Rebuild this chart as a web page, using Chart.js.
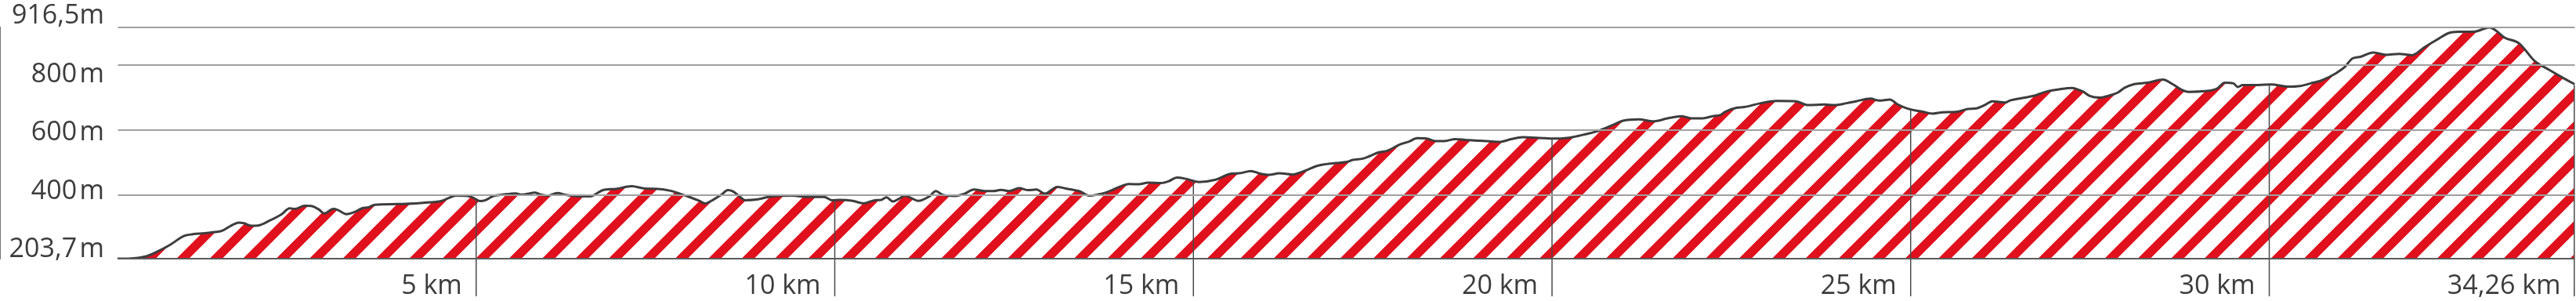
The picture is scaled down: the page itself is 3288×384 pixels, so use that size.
<!DOCTYPE html>
<html lang="de">
<head>
    <meta charset="UTF-8">
    <script src="https://cdn.jsdelivr.net/npm/chart.js"></script>
    <title>Höhenprofil</title>
    <style>
        body {
            margin: 0;
            background: #ffffff;
        }

        #wrap {
            width: 3288px;
            height: 384px;
        }
    </style>
</head>
<body>
<div id="wrap"><canvas id="profile" width="3288" height="384"></canvas></div>
<script>
    // distance along the route (km) and elevation (m)
    const distKm = [
        0, 0.15, 0.40, 0.55, 0.73, 0.93, 1.05, 1.22, 1.36, 1.45, 1.58, 1.69, 1.76, 1.87, 1.96,
        2.12, 2.29, 2.40, 2.47, 2.61, 2.70, 2.81, 2.88, 3.01, 3.07, 3.19, 3.32, 3.41, 3.50, 3.59,
        3.90, 4.26, 4.52, 4.61, 4.72, 4.88, 4.97, 5.06, 5.13, 5.24, 5.37, 5.55, 5.62, 5.68, 5.82,
        5.89, 6.00, 6.13, 6.26, 6.44, 6.60, 6.69, 6.77, 6.95, 7.17, 7.35, 7.53, 7.71, 7.84, 7.97,
        8.11, 8.19, 8.31, 8.42, 8.51, 8.58, 8.67, 8.75, 8.91, 9.13, 9.40, 9.62, 9.85, 9.96, 10.07,
        10.25, 10.40, 10.56, 10.65, 10.72, 10.81, 10.90, 10.98, 11.07, 11.16, 11.32, 11.41, 11.50, 11.68, 11.81,
        11.94, 12.10, 12.21, 12.32, 12.43, 12.57, 12.70, 12.81, 12.93, 13.10, 13.22, 13.42, 13.55, 13.66, 13.79,
        13.97, 14.10, 14.24, 14.37, 14.55, 14.66, 14.77, 14.91, 15.08, 15.31, 15.53, 15.64, 15.80, 15.93, 16.06,
        16.20, 16.38, 16.56, 16.73, 16.96, 17.14, 17.22, 17.36, 17.45, 17.58, 17.71, 17.89, 18.00, 18.12, 18.25,
        18.38, 18.52, 18.65, 18.79, 18.92, 19.10, 19.28, 19.43, 19.59, 19.90, 20.08, 20.30, 20.48, 20.65, 20.85,
        20.99, 21.21, 21.41, 21.61, 21.81, 21.95, 22.08, 22.24, 22.35, 22.41, 22.57, 22.68, 22.91, 23.13, 23.40,
        23.57, 23.80, 23.93, 24.11, 24.24, 24.44, 24.56, 24.71, 24.82, 24.96, 25.18, 25.31, 25.45, 25.63, 25.80,
        25.92, 26.03, 26.14, 26.32, 26.38, 26.61, 26.74, 26.88, 27.10, 27.25, 27.32, 27.41, 27.49, 27.63, 27.76,
        27.89, 27.98, 28.12, 28.30, 28.52, 28.65, 28.78, 28.87, 29.10, 29.27, 29.38, 29.50, 29.56, 29.63, 29.85,
        30.03, 30.25, 30.43, 30.61, 30.74, 30.92, 31.05, 31.16, 31.27, 31.45, 31.63, 31.81, 31.99, 32.16, 32.34,
        32.50, 32.65, 32.87, 32.99, 33.07, 33.16, 33.28, 33.48, 33.70, 33.90, 34.12, 34.26
    ];
    const elevM = [
        203.7, 204, 211, 225, 246, 274, 279, 282, 286, 289, 305, 315, 313, 305, 306,
        321, 341, 359, 357, 367, 366, 355, 343, 357, 354, 341, 349, 359, 362, 370,
        372, 376, 382, 390, 398, 397, 390, 381, 384, 397, 401, 405, 401, 402, 407,
        402, 398, 406, 400, 396, 396, 406, 415, 419, 427, 420, 419, 413, 404, 394,
        382, 374, 386, 401, 415, 411, 396, 384, 386, 396, 398, 394, 394, 384, 385,
        382, 374, 384, 385, 393, 380, 389, 398, 390, 382, 396, 412, 401, 397, 404,
        417, 412, 412, 416, 412, 421, 415, 417, 404, 425, 420, 411, 398, 401, 408,
        425, 434, 433, 438, 437, 443, 454, 449, 440, 447, 466, 467, 474, 466, 462,
        467, 463, 475, 490, 498, 502, 508, 512, 519, 531, 537, 557, 564, 575, 574,
        566, 567, 572, 570, 568, 566, 564, 572, 578, 575, 574, 579, 588, 598, 616,
        629, 633, 627, 636, 643, 636, 636, 643, 647, 656, 669, 671, 683, 690, 689,
        677, 679, 677, 683, 689, 697, 691, 694, 679, 666, 656, 651, 655, 656, 665,
        667, 677, 689, 685, 691, 701, 707, 718, 727, 730, 726, 718, 706, 700, 706,
        716, 730, 742, 746, 756, 742, 724, 718, 720, 728, 746, 744, 733, 739, 739,
        741, 734, 736, 746, 754, 774, 794, 821, 826, 839, 832, 835, 831, 855, 879,
        899, 903, 904, 912, 916.5, 907, 885, 868, 813, 786, 758, 741
    ];

    const yTicks = [203.7, 400, 600, 800, 916.5];
    const yTickLabels = ['203,7\u200Am', '400\u200Am', '600\u200Am', '800\u200Am', '916,5m'];
    const xTicks = [5, 10, 15, 20, 25, 30, 34.26];
    const xTickLabels = ['5 km', '10 km', '15 km', '20 km', '25 km', '30 km', '34,26 km'];

    const RED = '#e1101d';
    const TEXT = '#3c3c3c';
    const FONT = '34px "Open Sans"';

    // diagonal red/white hatching
    function makeHatch(ctx) {
        const tile = document.createElement('canvas');
        tile.width = 100;
        tile.height = 100;
        const t = tile.getContext('2d');
        const a = 8.25, w = 37.7;
        t.fillStyle = RED;
        for (let k = -2; k <= 2; k++) {
            const c1 = a + 100 * k, c2 = a + w + 100 * k;
            t.beginPath();
            t.moveTo(c1, 0);
            t.lineTo(c2, 0);
            t.lineTo(c2 - 100, 100);
            t.lineTo(c1 - 100, 100);
            t.closePath();
            t.fill();
        }
        const pat = ctx.createPattern(tile, 'repeat');
        const s = 42.43 / 100;
        pat.setTransform(new DOMMatrix([s, 0, 0, s, 0, 0]));
        return pat;
    }

    function elevAt(km) {
        for (let i = 1; i < distKm.length; i++) {
            if (km <= distKm[i]) {
                const f = (km - distKm[i - 1]) / (distKm[i] - distKm[i - 1]);
                return elevM[i - 1] + f * (elevM[i] - elevM[i - 1]);
            }
        }
        return elevM[elevM.length - 1];
    }

    const profileDecor = {
        id: 'profileDecor',
        afterDatasetsDraw(chart) {
            const ctx = chart.ctx;
            const xs = chart.scales.x, ys = chart.scales.y;
            const area = chart.chartArea;
            ctx.save();
            // km lines under the curve, running down past the axis
            ctx.strokeStyle = '#4a4a4a';
            ctx.lineWidth = 1.5;
            xTicks.forEach(km => {
                const px = Math.min(xs.getPixelForValue(km), area.right - 0.75);
                const top = ys.getPixelForValue(elevAt(km)) + 1;
                ctx.beginPath();
                ctx.moveTo(px, top);
                ctx.lineTo(px, area.bottom + 48);
                ctx.stroke();
            });
            ctx.restore();
        },
        afterDraw(chart) {
            const ctx = chart.ctx;
            const xs = chart.scales.x;
            const area = chart.chartArea;
            ctx.save();
            // base line
            ctx.strokeStyle = '#5a5a5a';
            ctx.lineWidth = 2;
            ctx.beginPath();
            ctx.moveTo(area.left, area.bottom);
            ctx.lineTo(area.right, area.bottom);
            ctx.stroke();

            ctx.font = FONT;
            ctx.fillStyle = TEXT;
            // y labels, spread evenly from top to bottom
            ctx.textAlign = 'right';
            ctx.textBaseline = 'alphabetic';
            const first = area.top - 5, last = area.bottom - 2;
            const n = yTickLabels.length;
            for (let i = 0; i < n; i++) {
                const lbl = yTickLabels[n - 1 - i];
                ctx.fillText(lbl, area.left - 17, first + i * (last - first) / (n - 1));
            }
            // x labels, to the left of each km line
            xTicks.forEach((km, i) => {
                const px = Math.min(xs.getPixelForValue(km), area.right);
                ctx.fillText(xTickLabels[i], px - 18, area.bottom + 45);
            });
            ctx.restore();
        }
    };

    const canvas = document.getElementById('profile');
    const hatch = makeHatch(canvas.getContext('2d'));

    new Chart(canvas, {
        type: 'line',
        data: {
            datasets: [{
                data: distKm.map((km, i) => ({x: km, y: elevM[i]})),
                borderColor: '#3d3d3d',
                borderWidth: 3,
                backgroundColor: hatch,
                fill: 'start',
                pointRadius: 0,
                cubicInterpolationMode: 'monotone'
            }]
        },
        options: {
            responsive: false,
            animation: false,
            devicePixelRatio: 1,
            layout: {
                padding: {left: 150, right: 1.5, top: 35, bottom: 54}
            },
            plugins: {
                legend: {display: false},
                tooltip: {enabled: false}
            },
            scales: {
                x: {
                    type: 'linear',
                    min: 0,
                    max: 34.26,
                    display: false
                },
                y: {
                    min: 203.7,
                    max: 916.5,
                    ticks: {display: false},
                    grid: {color: '#a0a0a0', lineWidth: 2, drawTicks: false, z: 1},
                    border: {display: true, color: '#4a4a4a', width: 1.5},
                    afterBuildTicks: scale => {
                        scale.ticks = yTicks.map(v => ({value: v}));
                    },
                    afterFit: scale => {
                        scale.width = 0;
                    }
                }
            }
        },
        plugins: [profileDecor]
    });
</script>
</body>
</html>
